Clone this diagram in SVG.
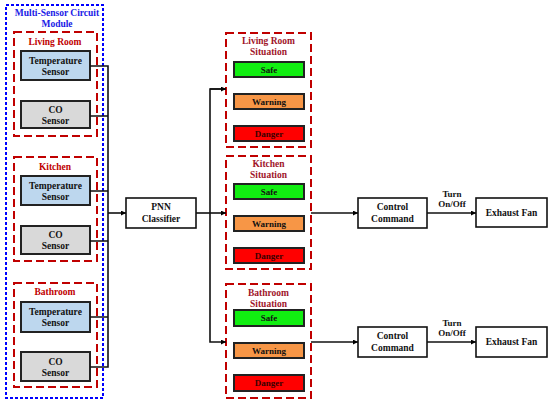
<svg xmlns="http://www.w3.org/2000/svg" width="550" height="405" viewBox="0 0 550 405">
<defs>
<marker id="arr" viewBox="0 0 10 10" refX="10" refY="5" markerWidth="5" markerHeight="5" markerUnits="userSpaceOnUse" orient="auto">
<path d="M0,0 L10,5 L0,10 z" fill="#000"/>
</marker>
<style>
text{font-family:"Liberation Serif","DejaVu Serif",serif;font-weight:bold;text-anchor:middle}
.t{font-size:9.5px;fill:#111}
.s{font-size:9px;fill:#111}
.blue{fill:none;stroke:#0000ff;stroke-width:2;stroke-dasharray:3 2}
.red{fill:none;stroke:#c00000;stroke-width:2;stroke-dasharray:8 4}
.rl{font-size:9.5px;fill:#c00000}
.sl{font-size:9.5px;fill:#a0152a}
.temp{fill:#bdd7ee;stroke:#222;stroke-width:2}
.co{fill:#d9d9d9;stroke:#222;stroke-width:2}
.box{fill:#fff;stroke:#111;stroke-width:1.6}
.safe{fill:#11ee11;stroke:#222;stroke-width:2}
.warn{fill:#f79646;stroke:#222;stroke-width:2}
.dang{fill:#ff0000;stroke:#222;stroke-width:2}
.ln{fill:none;stroke:#111;stroke-width:1.6}
</style>
</defs>
<rect width="550" height="405" fill="#fff"/>

<g id="module">
<rect class="blue" x="6" y="5" width="97" height="393"/>
<text class="rl" x="57" y="16" style="fill:#1a1ae6">Multi-Sensor Circuit</text>
<text class="rl" x="57" y="27" style="fill:#1a1ae6">Module</text>
</g>

<g id="living-room">
<rect class="red" x="14" y="32" width="83" height="104"/>
<text class="rl" x="55" y="45">Living Room</text>
<g id="lr-temp"><rect class="temp" x="21" y="51" width="69" height="29"/><text class="t" x="55.5" y="64">Temperature</text><text class="t" x="55.5" y="75">Sensor</text></g>
<g id="lr-co"><rect class="co" x="21" y="101" width="69" height="27"/><text class="t" x="55.5" y="113">CO</text><text class="t" x="55.5" y="124">Sensor</text></g>
</g>

<g id="kitchen">
<rect class="red" x="14" y="157" width="83" height="104"/>
<text class="rl" x="55" y="170">Kitchen</text>
<g id="k-temp"><rect class="temp" x="21" y="176" width="69" height="29"/><text class="t" x="55.5" y="189">Temperature</text><text class="t" x="55.5" y="200">Sensor</text></g>
<g id="k-co"><rect class="co" x="21" y="226" width="69" height="28"/><text class="t" x="55.5" y="238">CO</text><text class="t" x="55.5" y="249">Sensor</text></g>
</g>

<g id="bathroom">
<rect class="red" x="14" y="283" width="83" height="104"/>
<text class="rl" x="55" y="295">Bathroom</text>
<g id="b-temp"><rect class="temp" x="21" y="302" width="69" height="30"/><text class="t" x="55.5" y="315">Temperature</text><text class="t" x="55.5" y="326">Sensor</text></g>
<g id="b-co"><rect class="co" x="21" y="352" width="69" height="29"/><text class="t" x="55.5" y="365">CO</text><text class="t" x="55.5" y="376">Sensor</text></g>
</g>

<g id="pnn">
<rect class="box" x="126" y="198" width="70" height="30"/>
<text class="t" x="161" y="210">PNN</text>
<text class="t" x="161" y="222">Classifier</text>
</g>

<g id="lr-situation">
<rect class="red" x="226" y="33" width="85" height="114"/>
<text class="sl" x="268.5" y="44">Living Room</text>
<text class="sl" x="268.5" y="55">Situation</text>
<rect class="safe" x="234" y="62" width="70" height="15"/><text class="s" x="269" y="73">Safe</text>
<rect class="warn" x="234" y="94" width="70" height="15"/><text class="s" x="269" y="105">Warning</text>
<rect class="dang" x="234" y="126" width="70" height="15"/><text class="s" x="269" y="137" style="fill:#3a0000">Danger</text>
</g>

<g id="k-situation">
<rect class="red" x="226" y="156" width="85" height="113"/>
<text class="sl" x="268.5" y="167">Kitchen</text>
<text class="sl" x="268.5" y="178">Situation</text>
<rect class="safe" x="234" y="184" width="70" height="15"/><text class="s" x="269" y="195">Safe</text>
<rect class="warn" x="234" y="216" width="70" height="15"/><text class="s" x="269" y="227">Warning</text>
<rect class="dang" x="234" y="248" width="70" height="15"/><text class="s" x="269" y="259" style="fill:#3a0000">Danger</text>
</g>

<g id="b-situation">
<rect class="red" x="226" y="284" width="85" height="114"/>
<text class="sl" x="268.5" y="296">Bathroom</text>
<text class="sl" x="268.5" y="307">Situation</text>
<rect class="safe" x="234" y="310" width="70" height="16"/><text class="s" x="269" y="321">Safe</text>
<rect class="warn" x="234" y="343" width="70" height="15"/><text class="s" x="269" y="354">Warning</text>
<rect class="dang" x="234" y="375" width="70" height="16"/><text class="s" x="269" y="386" style="fill:#3a0000">Danger</text>
</g>

<g id="control-1">
<rect class="box" x="358" y="198" width="69" height="30"/>
<text class="t" x="392.5" y="210">Control</text>
<text class="t" x="392.5" y="222">Command</text>
</g>
<g id="fan-1">
<rect class="box" x="476" y="198" width="71" height="29"/>
<text class="t" x="511.5" y="216">Exhaust Fan</text>
</g>
<g id="control-2">
<rect class="box" x="358" y="327" width="69" height="30"/>
<text class="t" x="392.5" y="339">Control</text>
<text class="t" x="392.5" y="351">Command</text>
</g>
<g id="fan-2">
<rect class="box" x="476" y="327" width="71" height="30"/>
<text class="t" x="511.5" y="345">Exhaust Fan</text>
</g>

<g id="connectors">
<path class="ln" d="M90,66 H108 M90,116 H108 M90,191 H108 M90,241 H108 M90,317 H108 M90,367 H108 M108,65.2 V367.8"/>
<path class="ln" d="M108,213 H126" marker-end="url(#arr)"/>
<path class="ln" d="M196,213 H226" marker-end="url(#arr)"/>
<path class="ln" d="M226,89 H210 V342 H226" marker-end="url(#arr)"/>
<path class="ln" d="M210,89 H226" marker-end="url(#arr)"/>
<path class="ln" d="M311,213 H358" marker-end="url(#arr)"/>
<path class="ln" d="M311,342 H358" marker-end="url(#arr)"/>
<path class="ln" d="M427,213 H476" marker-end="url(#arr)"/>
<path class="ln" d="M427,342 H476" marker-end="url(#arr)"/>
<text class="s" x="452" y="197">Turn</text>
<text class="s" x="452" y="207">On/Off</text>
<text class="s" x="452" y="326">Turn</text>
<text class="s" x="452" y="336">On/Off</text>
</g>
</svg>
